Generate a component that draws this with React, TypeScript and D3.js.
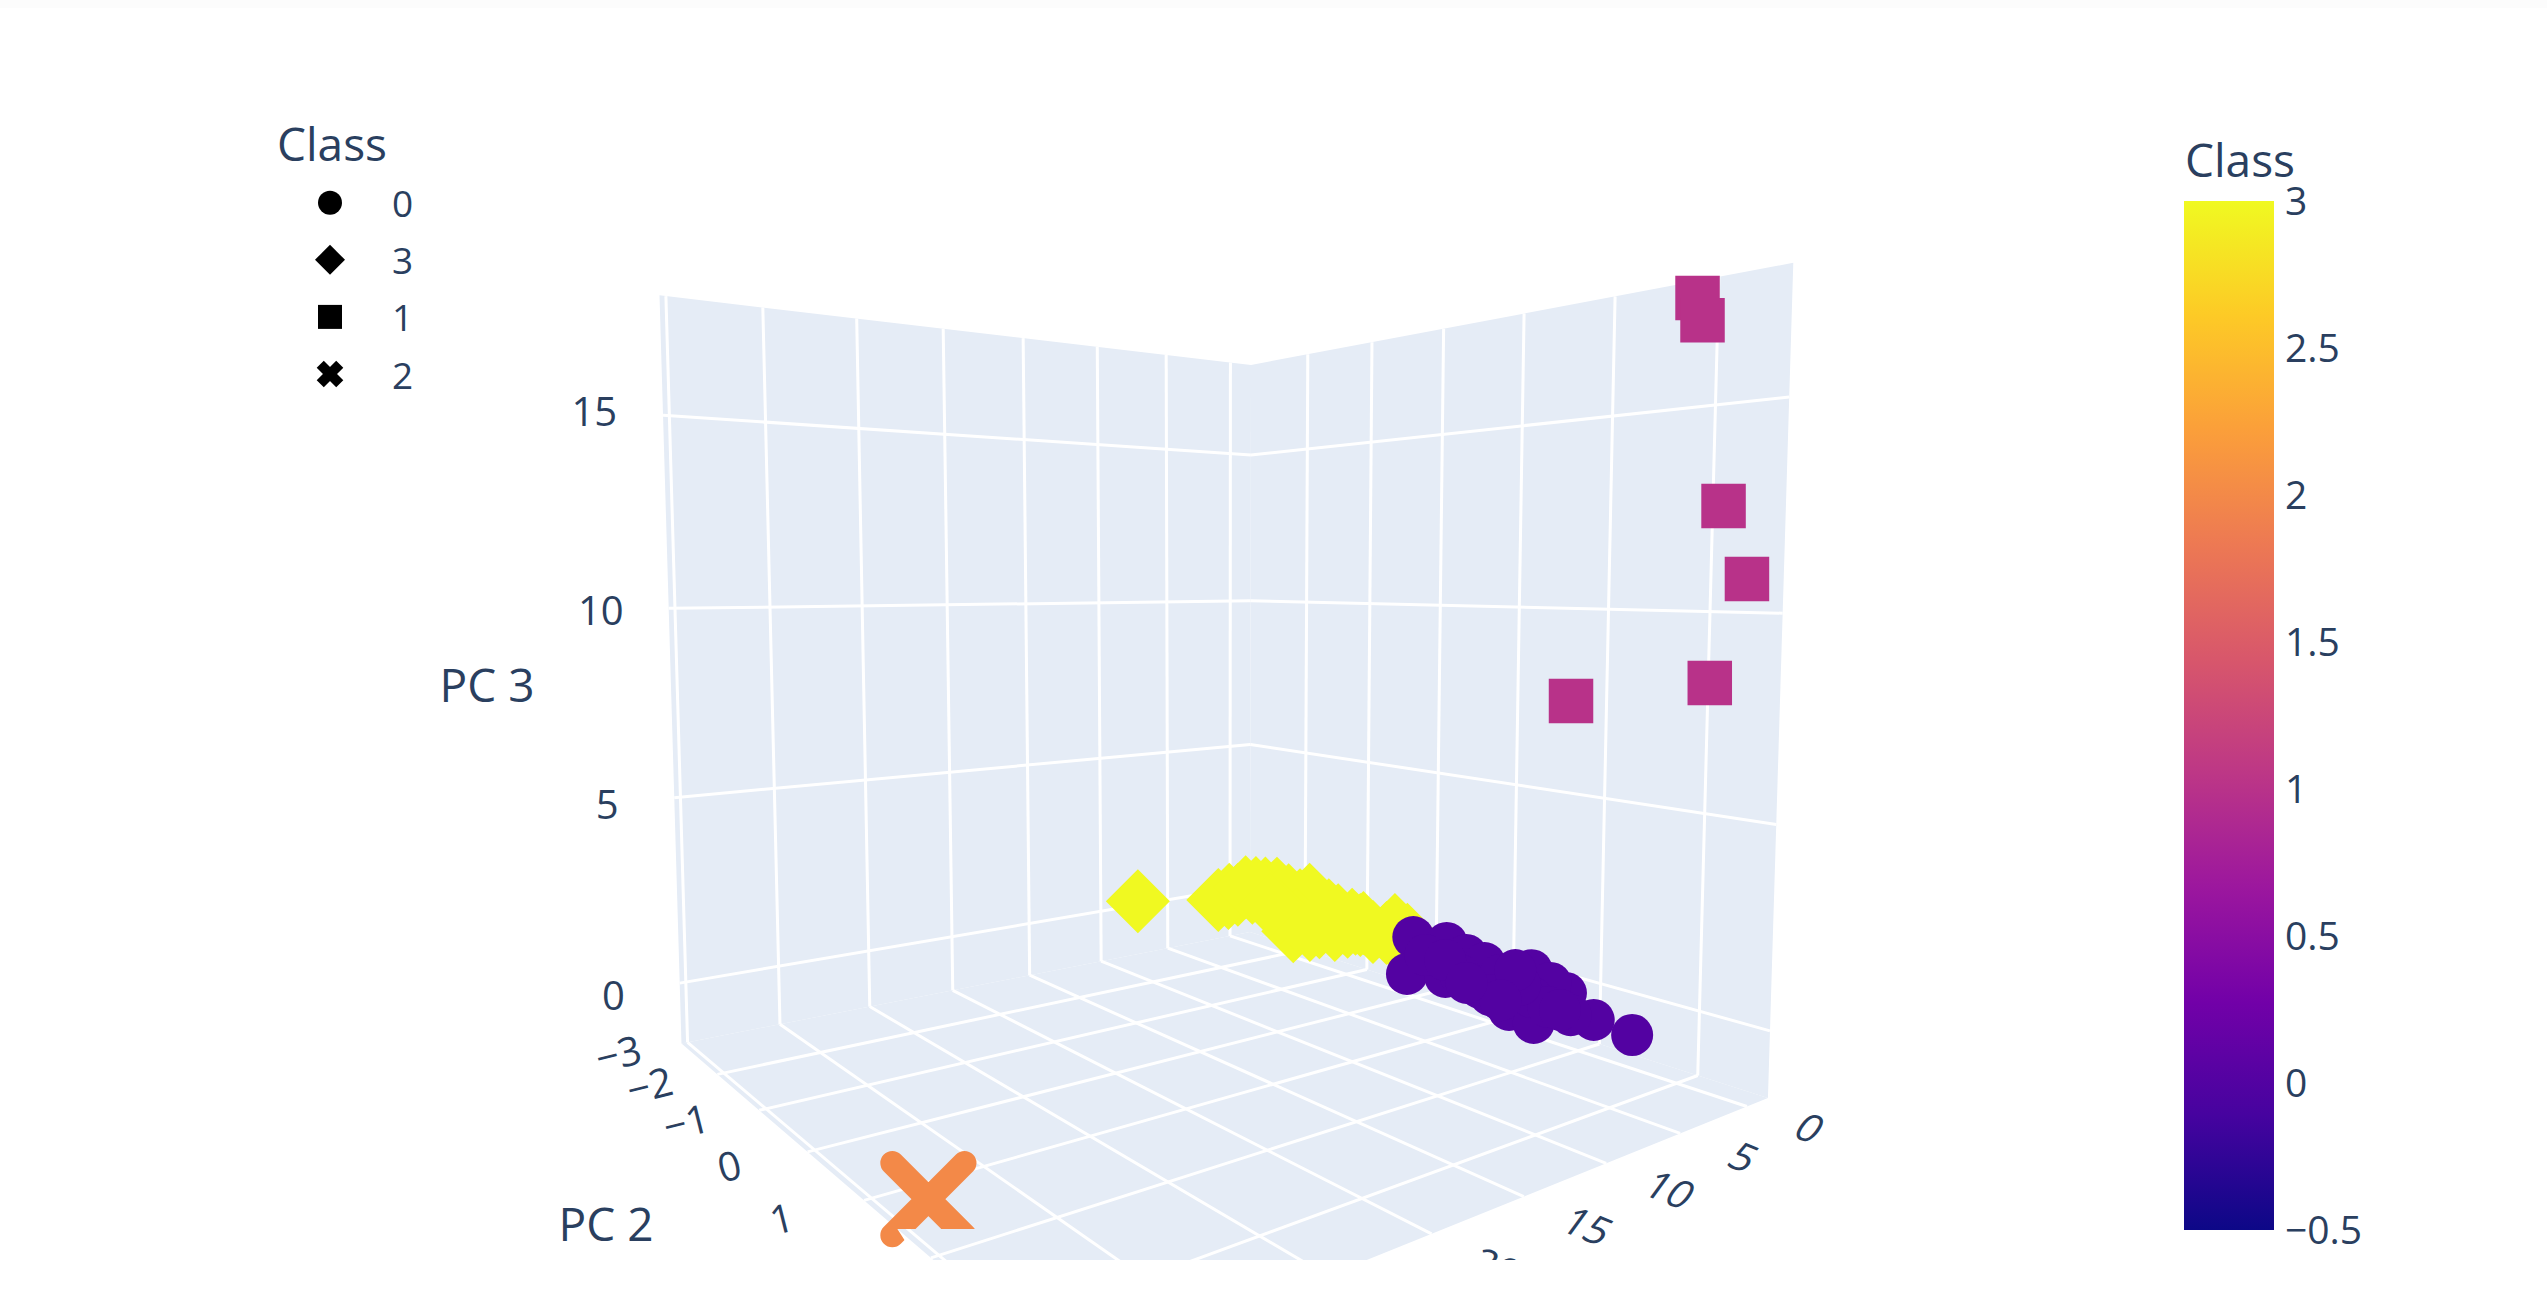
import React from 'react';
import * as d3 from 'd3';

const WIDTH = 2547;
const HEIGHT = 1311;
const TEXT = '#2a3f5f';
const FONT = '"Open Sans", sans-serif';

// plotly's Plasma scale
const plasma = ['#0d0887', '#46039f', '#7201a8', '#9c179e', '#bd3786', '#d8576b', '#ed7953', '#fb9f3a', '#fdca26', '#f0f921'];

const xTicks = [0, 5, 10, 15, 20, 25, 30];
const yTicks = [-3, -2, -1, 0, 1, 2];
const zTicks = [0, 5, 10, 15];
// the rest of the tick labels fall below the cropped scene
const xLabelTicks = [0, 5, 10, 15, 20];
const yLabelTicks = [-3, -2, -1, 0, 1];
const colorTicks = [-0.5, 0, 0.5, 1, 1.5, 2, 2.5, 3];
const legendOrder = [0, 3, 1, 2];

// class 3 (diamonds)
const class3Pc1 = [8.15, 4.04, 3.21, 2.2, 1.13, -0.25, -0.83, -0.22, 0.11, -1.36, 0.44, 0.82, 1.39, 1.91, 1.47, 0.8, 5.34, 2.79, 3.59, 2.34, 1.8, 0.92, 0.93, 1.56, 2.62, 0.5, 0.11, 1.08, 1.48, 2.21, 3.53, 3.01, 4.4, 3.29, 1.39, -0.19, 2.36];
const class3Pc2 = [-3.75, -3.27, -3.28, -3.34, -3.32, -3.39, -3.31, -2.98, -2.72, -2.86, -2.19, -1.97, -1.6, -1.25, -1.14, -0.97, -1.75, -2.05, -1.71, -1.81, -1.69, -1.74, -1.57, -1.07, -3.4, -3.58, -3.48, -2.87, -2.16, -1.56, -2.08, -2.44, -1.69, -1.54, -1.53, -1.32, -2.75];
const class3Pc3 = [0.32, 0.32, 0.32, 0.32, 0.32, 0.32, 0.32, 0.32, 0.32, 0.32, 0.32, 0.32, 0.32, 0.32, 0.32, 0.32, 0.32, 0.32, 0.32, 0.32, 0.32, 0.32, 0.32, 0.32, 0.32, 0.32, 0.32, 0.32, 0.32, 0.32, 0.32, 0.32, 0.32, 0.32, 0.32, 0.32, 0.32];

// class 0 (circles)
const class0Pc1 = [5.27, 0.91, 6.33, 0.36, 5.19, 1.33, 1.75, 5.24, 6.79, 0.84, 7.37, 2.6, 4.9, 1.86, 5.16, 3.48, 4.42, 5.01, 4.36, 3.05, 2.93, 2.77, 3.31, 5.72, 4.93, 1.49, 5.95, 5.13];
const class0Pc2 = [2.23, -0.87, 0, -0.52, 0.27, -0.11, 0.18, 0.68, 1.24, 0.59, 1.58, 1.22, 1.82, 0.95, 1.63, 0.73, 1.12, 1.38, 0.31, -0.34, -0.11, 0.52, 0.83, 0.87, 1.49, 0.5, 1.02, 0.51];
const class0Pc3 = [0.32, 0.32, 0.32, 0.32, 0.32, 0.32, 0.32, 0.32, 0.32, 0.32, 0.32, 0.32, 0.32, 0.32, 0.32, 0.32, 0.32, 0.32, 0.32, 0.32, 0.32, 0.32, 0.32, 0.32, 0.32, 0.32, 0.32, 0.32];

// class 1 (squares)
const class1Pc1 = [0, 0, 0, 0, 0, 0];
const class1Pc2 = [2.01, 2.06, 2.29, 2.51, 2.21, 0.85];
const class1Pc3 = [17.44, 16.9, 12.51, 10.8, 8.32, 7.6];

// class 2 (the single x)
const class2Pc1 = [33.2];
const class2Pc2 = [0.29];
const class2Pc3 = [-1.58];

// axis ranges of the scene cube
const xScale = d3.scaleLinear().domain([-1.68, 35.05]).range([0, 1]);
const yScale = d3.scaleLinear().domain([-3.98, 2.64]).range([0, 1]);
const zScale = d3.scaleLinear().domain([-1.65, 18.05]).range([0, 1]);
const [xMin, xMax] = xScale.domain();
const [yMin, yMax] = yScale.domain();
const [zMin, zMax] = zScale.domain();

// camera, fitted to the corners of the cube in the picture
const project = (x: number, y: number, z: number): [number, number] => {
  const u = xScale(x);
  const v = yScale(y);
  const w = zScale(z);
  const h = 1 - 0.2393 * u - 0.3174 * v - 0.03 * w;
  return [
    (1250 - 731.6 * u - 43.2 * v - 36.5 * w) / h,
    (932 - 138.2 * u - 182.5 * v - 578 * w) / h,
  ];
};

const colorAt = d3
  .scaleLinear<string>()
  .domain(plasma.map((_, i) => -0.5 + (3.5 * i) / (plasma.length - 1)))
  .range(plasma);

const zipPoints = (a: number[], b: number[], c: number[]) => a.map((d, i) => project(d, b[i], c[i]));

const path3d = d3.line();
const seg = (a: [number, number, number], b: [number, number, number]) =>
  path3d([project(a[0], a[1], a[2]), project(b[0], b[1], b[2])]) as string;

const symbolPath = (type: d3.SymbolType, size: number) => d3.symbol().type(type).size(size)() as string;

// plotly leaves a thin sliver of background outside the far edge line
const xEdge = xMax - 0.3;

const gridSegments = [
  // left wall
  ...[...xTicks, xEdge].map((x) => seg([x, yMin, zMin], [x, yMin, zMax])),
  ...zTicks.map((z) => seg([xMin, yMin, z], [xMax, yMin, z])),
  // right wall
  ...yTicks.map((y) => seg([xMin, y, zMin], [xMin, y, zMax])),
  ...zTicks.map((z) => seg([xMin, yMin, z], [xMin, yMax, z])),
  // floor
  ...[...xTicks, xEdge].map((x) => seg([x, yMin, zMin], [x, yMax, zMin])),
  ...yTicks.map((y) => seg([xMin, y, zMin], [xMax, y, zMin])),
];

const polygon = (pts: [number, number, number][]) =>
  (d3.line()(pts.map((p) => project(p[0], p[1], p[2]))) as string) + 'Z';

const walls = [
  polygon([[xMin, yMin, zMin], [xMax, yMin, zMin], [xMax, yMin, zMax], [xMin, yMin, zMax]]),
  polygon([[xMin, yMin, zMin], [xMin, yMax, zMin], [xMin, yMax, zMax], [xMin, yMin, zMax]]),
  polygon([[xMin, yMin, zMin], [xMax, yMin, zMin], [xMax, yMax, zMin], [xMin, yMax, zMin]]),
];

const barScale = d3.scaleLinear().domain([-0.5, 3]).range([1230, 201]);

export default function App() {
  const circles = zipPoints(class0Pc1, class0Pc2, class0Pc3);
  const diamonds = zipPoints(class3Pc1, class3Pc2, class3Pc3);
  const squares = zipPoints(class1Pc1, class1Pc2, class1Pc3);
  const crosses = zipPoints(class2Pc1, class2Pc2, class2Pc3);

  const legendY = d3.scalePoint<number>().domain(legendOrder).range([202.7, 374]);
  const legendShape = (c: number) => {
    const y = legendY(c) as number;
    if (c === 0) return <path key={c} d={symbolPath(d3.symbolCircle, Math.PI * 144)} transform={`translate(330,${y})`} />;
    if (c === 3) return <path key={c} d={symbolPath(d3.symbolSquare, 450)} transform={`translate(330,${y}) rotate(45)`} />;
    if (c === 1) return <path key={c} d={symbolPath(d3.symbolSquare, 576)} transform={`translate(330,${y})`} />;
    return <path key={c} d={symbolPath(d3.symbolX, 250)} transform={`translate(330,${y})`} fill="none" stroke="#000" strokeWidth={10} />;
  };

  return (
    <svg
      width={WIDTH}
      height={HEIGHT}
      style={{ position: 'absolute', left: 0, top: 0, background: '#fff', fontFamily: FONT }}
    >
      <defs>
        <clipPath id="scene">
          <rect x={0} y={0} width={WIDTH} height={1260} />
        </clipPath>
        {/* the x sprite is cut off in the original, with a small hook left over */}
        <clipPath id="xcut">
          <rect x={-60} y={-60} width={120} height={90} />
          <polygon points="-60,30 -31,30 -22,44 -22,60 -60,60" />
        </clipPath>
        <linearGradient id="bar" x1="0" x2="0" y1="1" y2="0">
          {plasma.map((c, i) => (
            <stop key={c} offset={i / (plasma.length - 1)} stopColor={c} />
          ))}
        </linearGradient>
      </defs>

      <rect x={0} y={0} width={WIDTH} height={8} fill="#fcfcfc" />

      <g clipPath="url(#scene)">
        {walls.map((d, i) => (
          <path key={i} d={d} fill="#E5ECF6" />
        ))}
        <g stroke="#fff" strokeWidth={3} fill="none">
          {gridSegments.map((d, i) => (
            <path key={i} d={d} />
          ))}
        </g>

        {diamonds.map(([x, y], i) => (
          <path key={i} d={symbolPath(d3.symbolSquare, 2050)} transform={`translate(${x},${y}) rotate(45)`} fill={colorAt(3)} />
        ))}
        {circles.map(([x, y], i) => (
          <path key={i} d={symbolPath(d3.symbolCircle, Math.PI * 21 * 21)} transform={`translate(${x},${y})`} fill={colorAt(0)} />
        ))}
        {squares.map(([x, y], i) => (
          <path key={i} d={symbolPath(d3.symbolSquare, 1980)} transform={`translate(${x},${y})`} fill={colorAt(1)} />
        ))}
        {crosses.map(([x, y], i) => (
          <g key={i} transform={`translate(${x},${y})`} clipPath="url(#xcut)">
            <path d={symbolPath(d3.symbolX, 3400)} fill="none" stroke={colorAt(2)} strokeWidth={24} strokeLinecap="round" />
          </g>
        ))}

        <g fill={TEXT} fontSize={40} textAnchor="middle" dominantBaseline="central">
          {xLabelTicks.map((t) => {
            const [x, y] = project(t, yMax + 0.53, zMin);
            return (
              <text key={t} transform={`translate(${x},${y}) rotate(22) skewX(-14)`}>
                {d3.format('d')(t)}
              </text>
            );
          })}
          {yLabelTicks.map((t) => {
            const [x, y] = project(xMax + 4.4 + 0.2 * (t + 3), t, zMin + 1.04 + 0.128 * (t + 3));
            return (
              <text key={t} transform={`translate(${x},${y}) rotate(-14)`}>
                {d3.format('d')(t).replace('-', '\u2212')}
              </text>
            );
          })}
          {zTicks.map((t) => {
            const [x, y] = project(xMax + 3.15, yMin, t);
            return (
              <text key={t} x={x} y={y}>
                {t}
              </text>
            );
          })}
        </g>
        <g fill={TEXT} fontSize={46} textAnchor="middle" dominantBaseline="central">
          <text x={487} y={684}>PC 3</text>
          <text x={606} y={1223}>PC 2</text>
        </g>
      </g>

      <text x={277} y={161} fontSize={46} fill={TEXT}>Class</text>
      {legendOrder.map(legendShape)}
      <g fontSize={37} fill={TEXT} dominantBaseline="central">
        {legendOrder.map((c) => (
          <text key={c} x={392} y={legendY(c)}>{c}</text>
        ))}
      </g>

      <text x={2185} y={177} fontSize={46} fill={TEXT}>Class</text>
      <rect x={2184} y={201} width={90} height={1029} fill="url(#bar)" />
      <g fontSize={39} fill={TEXT} dominantBaseline="central">
        {colorTicks.map((t) => (
          <text key={t} x={2285} y={barScale(t) - 2}>
            {String(t).replace('-', '\u2212')}
          </text>
        ))}
      </g>
    </svg>
  );
}
